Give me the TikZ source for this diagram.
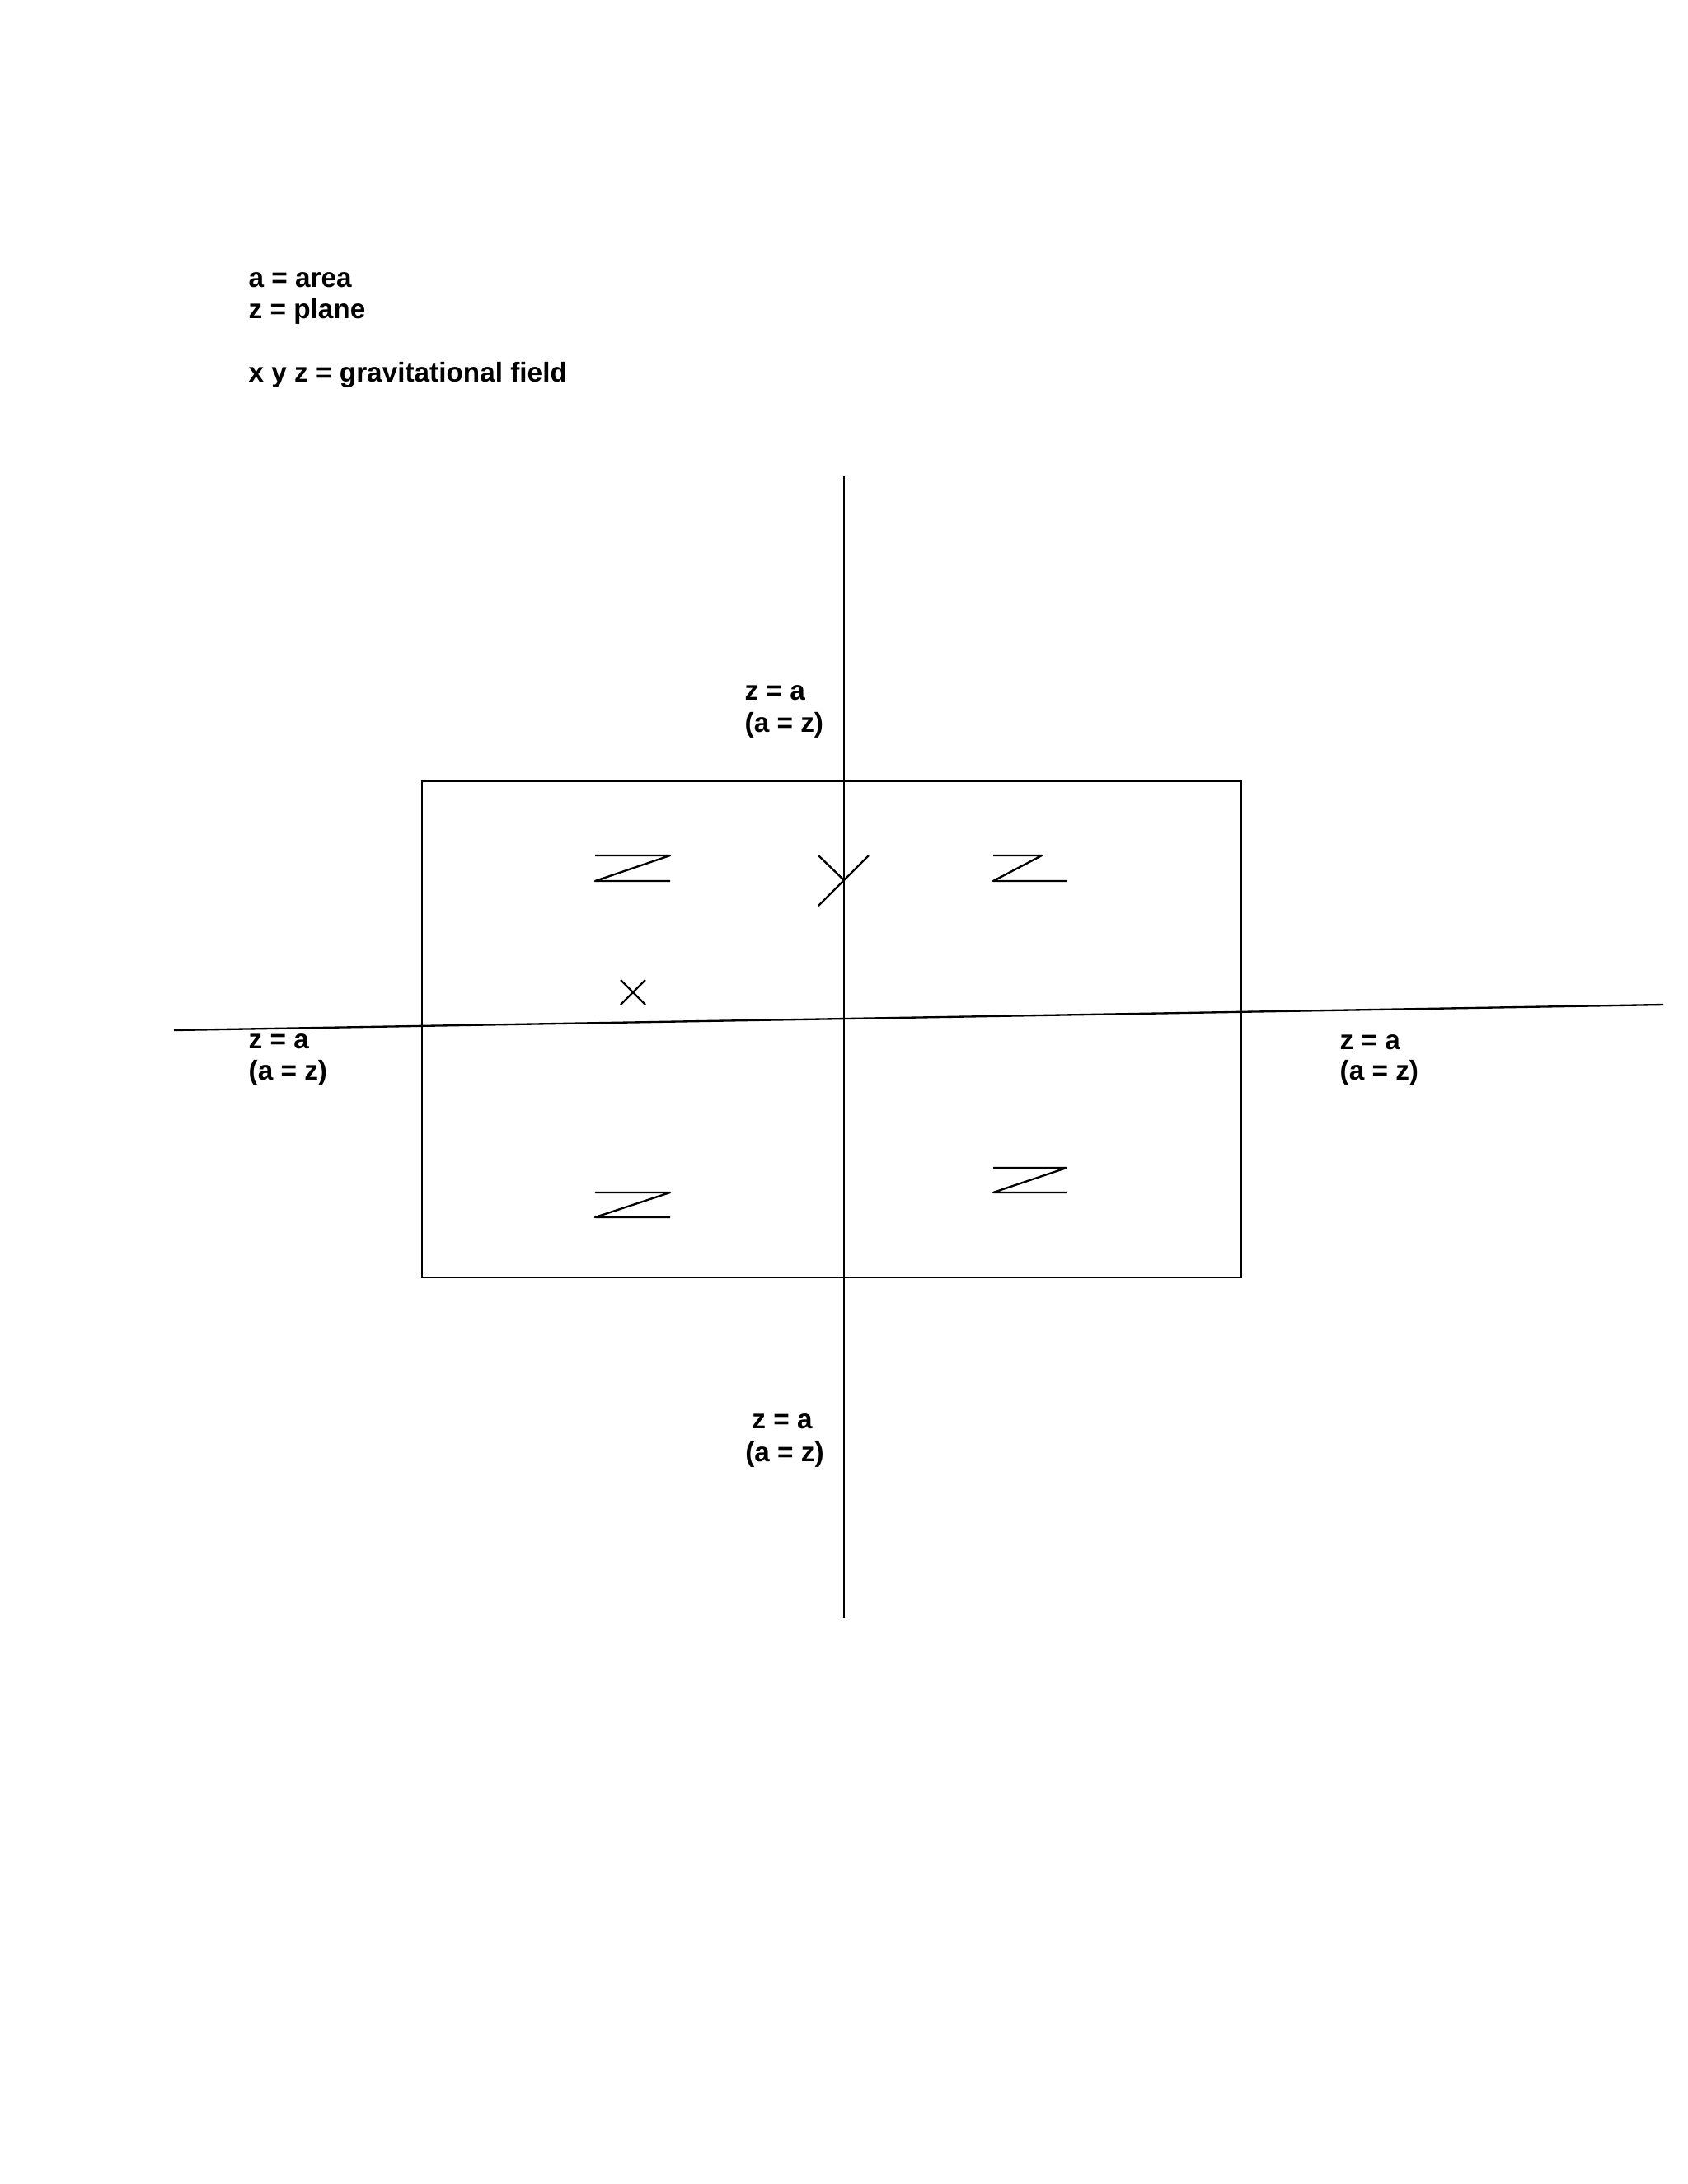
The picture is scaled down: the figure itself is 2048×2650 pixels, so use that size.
\documentclass[tikz,border=0pt]{standalone}
\usepackage{fontspec}
\setmainfont{Liberation Sans}
\begin{document}
\begin{tikzpicture}[x=0.3pt,y=-0.3pt,
  ln/.style={line width=0.7pt,line cap=butt,line join=round},
  lbl/.style={inner sep=0pt,anchor=base west,font=\fontsize{10}{11.6}\selectfont\bfseries},
  lblc/.style={inner sep=0pt,anchor=base,font=\fontsize{10}{11.6}\selectfont\bfseries}]
\useasboundingbox[fill=white] (0,0) rectangle (2048,2650);
% legend
\node[lbl] (l1) at (301,348) {a = area};
\node[lbl] (l2) at (301,386) {z = plane};
\node[lbl] (l3) at (301,463) {x y z = gravitational field};
% axes
\coordinate (vt) at (1024,578);
\coordinate (vb) at (1024,1963);
\coordinate (hl) at (211,1250);
\coordinate (hr) at (2018,1219);
\draw[ln] (vt) -- (vb);
\draw[ln] (hl) -- (hr);
% rectangle
\coordinate (r1) at (512,948);
\coordinate (r2) at (1506,1550);
\draw[ln,line join=miter] (r1) rectangle (r2);
% Z marks
\draw[ln] (722,1038) -- (813,1038) -- (722,1069) -- (813,1069);
\draw[ln] (1205,1038) -- (1264,1038) -- (1205,1069) -- (1294,1069);
\draw[ln] (722,1447) -- (813,1447) -- (722,1477) -- (813,1477);
\draw[ln] (1205,1417) -- (1294,1417) -- (1205,1447) -- (1294,1447);
% Y mark
\draw[ln] (993,1038) -- (1024,1068);
\draw[ln] (1054,1038) -- (993,1099);
% X mark
\draw[ln] (753,1189) -- (783,1219);
\draw[ln] (783,1189) -- (753,1219);
% labels
\node[lbl] (t1) at (903,849) {z = a};
\node[lbl] (t2) at (903,888) {(a = z)};
\node[lbl] (le1) at (301,1272) {z = a};
\node[lbl] (le2) at (301,1310) {(a = z)};
\node[lbl] (ri1) at (1625,1273) {z = a};
\node[lbl] (ri2) at (1625,1310) {(a = z)};
\node[lblc] (b1) at (949,1733) {z = a};
\node[lblc] (b2) at (952,1773) {(a = z)};
\end{tikzpicture}
\end{document}
